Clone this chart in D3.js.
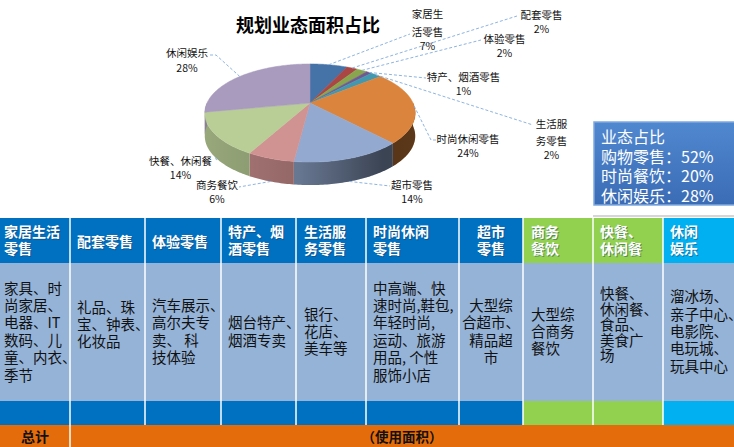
<!DOCTYPE html>
<html>
<head>
<meta charset="utf-8">
<script src="https://cdn.jsdelivr.net/npm/d3@7"></script>
<style>
  body { margin: 0; background: #fff; }
  svg { display: block; font-family: "Noto Sans CJK SC", "Noto Sans", sans-serif; }
</style>
</head>
<body>
<script>
// ---- data ----
const chartTitle = '规划业态面积占比';
const sliceNames = ['家居生活零售', '配套零售', '体验零售', '特产、烟酒零售', '生活服务零售',
                    '时尚休闲零售', '超市零售', '商务餐饮', '快餐、休闲餐', '休闲娱乐'];
const sliceValues = [7, 2, 2, 1, 2, 24, 14, 6, 14, 28];
const sliceLabelLines = [['家居生', '活零售'], ['配套零售'], ['体验零售'], ['特产、烟酒零售'], ['生活服', '务零售'],
                         ['时尚休闲零售'], ['超市零售'], ['商务餐饮'], ['快餐、休闲餐'], ['休闲娱乐']];
const sliceColors = ['#4572a7', '#aa4643', '#89a54e', '#71588f', '#4198af',
                     '#db843d', '#93a9cf', '#d19392', '#b9cd96', '#a99bbd'];

const summaryTitle = '业态占比';
const summaryNames = ['购物零售', '时尚餐饮', '休闲娱乐'];
const summaryValues = [52, 20, 28];

const columnHeaders = [['家居生活', '零售'], ['配套零售'], ['体验零售'], ['特产、烟', '酒零售'], ['生活服', '务零售'],
                       ['时尚休闲', '零售'], ['超市', '零售'], ['商务', '餐饮'], ['快餐、', '休闲餐'], ['休闲', '娱乐']];
const columnBodies = [
  ['家具、时', '尚家居、', '电器、IT', '数码、儿', '童、内衣、', '季节'],
  ['礼品、珠', '宝、钟表、', '化妆品'],
  ['汽车展示、', '高尔夫专', '卖、 科', '技体验'],
  ['烟台特产、', '烟酒专卖'],
  ['银行、', '花店、', '美车等'],
  ['中高端、快', '速时尚,鞋包,', '年轻时尚,', '运动、旅游', '用品, 个性', '服饰小店'],
  ['大型综', '合超市、', '精品超', '市'],
  ['大型综', '合商务', '餐饮'],
  ['快餐、', '休闲餐、', '食品、', '美食广', '场'],
  ['溜冰场、', '亲子中心、', '电影院、', '电玩城、', '玩具中心']
];
const columnGroups = ['retail', 'retail', 'retail', 'retail', 'retail', 'retail', 'retail', 'food', 'food', 'fun'];
const groupColors = { retail: '#0070c0', food: '#92d050', fun: '#00b0f0' };
const totalLabel = '总计';
const totalValue = '（使用面积）';

// ---- layout ----
const width = 734;
const height = 447;

const pieCx = 310, pieCy = 103, pieRx = 103, pieRy = 47, persp = 0.204, pieDepth = 23;

// label centre x, baselines, and leader line bend points
const labelLayout = [
  { x: 427.5, ys: [18, 36, 50], line: [[410, 34]] },
  { x: 541.5, ys: [19, 33], line: [[517, 16]] },
  { x: 504.5, ys: [43, 57], line: [[481, 40]] },
  { x: 463.5, ys: [81, 95], line: [[426, 78]] },
  { x: 551.5, ys: [128, 145, 159], line: [[533, 125]] },
  { x: 468, ys: [143, 157], line: [[431, 140], [436, 140]] },
  { x: 412, ys: [189, 203], line: [[390, 186]] },
  { x: 217, ys: [189, 203], line: [[239, 187]] },
  { x: 180.5, ys: [165, 179], line: [[217, 161]] },
  { x: 187, ys: [57, 72], line: [[216, 55], [210, 55]] }
];

const colEdges = [0, 70, 145, 221, 296, 366, 459, 523, 593, 663, 734];
const colPad = [4, 7, 7, 7, 8, 7, 0, 8, 7, 7];
const colCentered = [false, false, false, false, false, false, true, false, false, false];
const bodyShift = [0, -7, 0, 0, 0, 0, 0, 0, -7, 0];
const bodyLineH = [17.4, 17.4, 17.4, 17.4, 17.4, 17.4, 17.4, 17.4, 15.5, 17.4];
const rowTop = 218, headBottom = 263, bodyBottom = 401, stripBottom = 425;

const svg = d3.select('body')
  .append('svg')
  .attr('width', width)
  .attr('height', height);

const defs = svg.append('defs');

// side shading
const shade = defs.append('linearGradient')
  .attr('id', 'sideShade')
  .attr('gradientUnits', 'userSpaceOnUse')
  .attr('x1', 205).attr('x2', 415).attr('y1', 0).attr('y2', 0);
[[0, 0.18], [0.45, 0.3], [0.85, 0.6], [1, 0.58]].forEach(s => {
  shade.append('stop').attr('offset', s[0]).attr('stop-color', '#000').attr('stop-opacity', s[1]);
});

const boxGrad = defs.append('linearGradient')
  .attr('id', 'boxGrad').attr('x1', 0).attr('x2', 0).attr('y1', 0).attr('y2', 1);
boxGrad.append('stop').attr('offset', 0).attr('stop-color', '#5088d0');
boxGrad.append('stop').attr('offset', 1).attr('stop-color', '#3a6cb5');

// ---- pie ----
const arcs = d3.pie().sort(null).startAngle(0).endAngle(2 * Math.PI)(sliceValues);

const project = (a) => {
  const s = Math.sin(a), c = Math.cos(a), k = 1 / (1 + persp * c);
  return [pieCx + pieRx * s * k, pieCy - pieRy * c * k];
};

const edgePoints = (a0, a1) => {
  const n = Math.max(2, Math.ceil((a1 - a0) / (Math.PI / 180)));
  return d3.range(n + 1).map(i => project(a0 + (a1 - a0) * i / n));
};

const line = d3.line();

// sides (front half only)
arcs.forEach((d, i) => {
  const a0 = Math.max(d.startAngle, Math.PI / 2);
  const a1 = Math.min(d.endAngle, 3 * Math.PI / 2);
  if (a1 <= a0) return;
  const top = edgePoints(a0, a1);
  const bottom = top.map(p => [p[0], p[1] + pieDepth]).reverse();
  const pts = top.concat(bottom);
  svg.append('path').attr('d', line(pts) + 'Z').attr('fill', sliceColors[i]);
  svg.append('path').attr('d', line(pts) + 'Z').attr('fill', 'url(#sideShade)');
});

// top faces
arcs.forEach((d, i) => {
  const pts = [[pieCx, pieCy]].concat(edgePoints(d.startAngle, d.endAngle));
  svg.append('path')
    .attr('d', line(pts) + 'Z')
    .attr('fill', sliceColors[i])
    .attr('stroke', sliceColors[i])
    .attr('stroke-width', 0.5);
});

// leader lines
arcs.forEach((d, i) => {
  const mid = (d.startAngle + d.endAngle) / 2;
  let p = project(mid);
  const front = Math.cos(mid) < -0.3;
  if (front) p = [p[0], p[1] + pieDepth];
  svg.append('path')
    .attr('d', line([p].concat(labelLayout[i].line)))
    .attr('fill', 'none')
    .attr('stroke', '#8db4e2')
    .attr('stroke-width', 1)
    .attr('stroke-dasharray', '3,2');
});

// labels
arcs.forEach((d, i) => {
  const lay = labelLayout[i];
  const lines = sliceLabelLines[i].concat([sliceValues[i] + '%']);
  svg.append('text')
    .attr('text-anchor', 'middle')
    .attr('font-size', 10.5)
    .attr('fill', '#111')
    .selectAll('tspan')
    .data(lines)
    .enter()
    .append('tspan')
    .attr('x', lay.x)
    .attr('y', (t, j) => lay.ys[j])
    .text(t => t);
});

// title
svg.append('text')
  .attr('x', 308).attr('y', 32)
  .attr('text-anchor', 'middle')
  .attr('font-size', 18)
  .attr('font-weight', 700)
  .attr('fill', '#000')
  .text(chartTitle);

// ---- summary box ----
svg.append('rect')
  .attr('x', 594).attr('y', 122)
  .attr('width', 150).attr('height', 83)
  .attr('fill', 'url(#boxGrad)')
  .attr('stroke', '#7fa8e0')
  .attr('stroke-width', 1.5);

const summaryLines = [summaryTitle].concat(summaryNames.map((n, i) => n + '：' + summaryValues[i] + '%'));
svg.append('text')
  .attr('font-size', 16)
  .attr('fill', '#fff')
  .selectAll('tspan')
  .data(summaryLines)
  .enter()
  .append('tspan')
  .attr('x', 601)
  .attr('y', (t, j) => 143 + j * 19.5)
  .text(t => t);

svg.append('line')
  .attr('x1', 593).attr('x2', 734).attr('y1', 216).attr('y2', 216)
  .attr('stroke', '#c8c8c8').attr('stroke-width', 1.5);

// ---- table ----
const x = d3.scaleOrdinal().domain(d3.range(columnHeaders.length)).range(colEdges.slice(0, -1));
const colW = (i) => colEdges[i + 1] - colEdges[i];

const cols = svg.selectAll('g.col')
  .data(columnHeaders)
  .enter()
  .append('g')
  .attr('class', 'col');

cols.append('rect')
  .attr('x', (d, i) => x(i)).attr('y', rowTop)
  .attr('width', (d, i) => colW(i)).attr('height', headBottom - rowTop)
  .attr('fill', (d, i) => groupColors[columnGroups[i]]);

cols.append('rect')
  .attr('x', (d, i) => x(i)).attr('y', headBottom)
  .attr('width', (d, i) => colW(i)).attr('height', bodyBottom - headBottom)
  .attr('fill', '#95b3d7');

cols.append('rect')
  .attr('x', (d, i) => x(i)).attr('y', bodyBottom)
  .attr('width', (d, i) => colW(i)).attr('height', stripBottom - bodyBottom)
  .attr('fill', (d, i) => groupColors[columnGroups[i]]);

const textX = (i) => colCentered[i] ? x(i) + colW(i) / 2 : x(i) + colPad[i];

// header text (with faint shadow)
columnHeaders.forEach((lines, i) => {
  const ys = lines.length === 1 ? [247] : [237, 254];
  [['#1a3a60', 0.9, 0.45], ['#fff', 0, 1]].forEach(st => {
    svg.append('text')
      .attr('text-anchor', colCentered[i] ? 'middle' : 'start')
      .attr('font-size', 14)
      .attr('font-weight', 700)
      .attr('fill', st[0])
      .attr('opacity', st[2])
      .selectAll('tspan')
      .data(lines)
      .enter()
      .append('tspan')
      .attr('x', textX(i) + st[1])
      .attr('y', (t, j) => ys[j] + st[1])
      .text(t => t);
  });
});

// body text
const bodyMid = (headBottom + bodyBottom) / 2;
columnBodies.forEach((lines, i) => {
  const lh = bodyLineH[i];
  svg.append('text')
    .attr('text-anchor', colCentered[i] ? 'middle' : 'start')
    .attr('font-size', 14.5)
    .attr('fill', '#111')
    .selectAll('tspan')
    .data(lines)
    .enter()
    .append('tspan')
    .attr('x', textX(i))
    .attr('y', (t, j) => bodyMid + bodyShift[i] + (j - (lines.length - 1) / 2) * lh + 5)
    .text(t => t);
});

// column separators
svg.selectAll('line.sep')
  .data(colEdges.slice(1, -1))
  .enter()
  .append('line')
  .attr('class', 'sep')
  .attr('x1', d => d).attr('x2', d => d)
  .attr('y1', rowTop).attr('y2', stripBottom)
  .attr('stroke', '#fff')
  .attr('stroke-width', 1.5);

// total row
svg.append('rect')
  .attr('x', 0).attr('y', stripBottom)
  .attr('width', width).attr('height', height - stripBottom)
  .attr('fill', '#e46c0a');

svg.append('line')
  .attr('x1', colEdges[1]).attr('x2', colEdges[1])
  .attr('y1', stripBottom).attr('y2', height)
  .attr('stroke', '#fff').attr('stroke-width', 1.5);

svg.append('text')
  .attr('x', colEdges[1] / 2).attr('y', 442)
  .attr('text-anchor', 'middle')
  .attr('font-size', 14).attr('font-weight', 700)
  .attr('fill', '#111')
  .text(totalLabel);

svg.append('text')
  .attr('x', (colEdges[1] + width) / 2).attr('y', 442)
  .attr('text-anchor', 'middle')
  .attr('font-size', 13.5).attr('font-weight', 700)
  .attr('fill', '#111')
  .text(totalValue);
</script>
</body>
</html>
